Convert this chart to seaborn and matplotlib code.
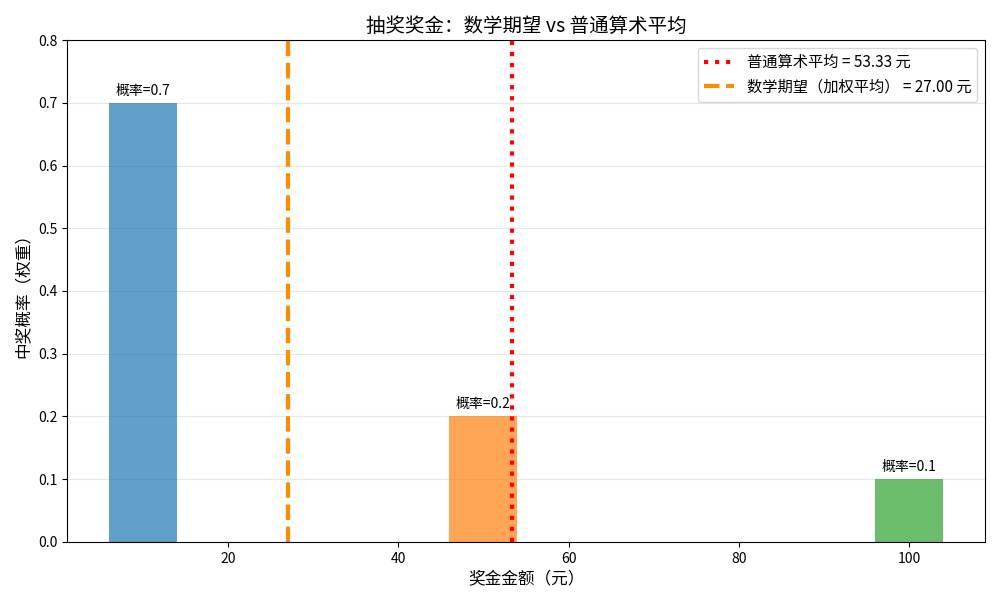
import matplotlib

matplotlib.use("Agg")
import matplotlib.pyplot as plt
import pandas as pd
import seaborn as sns

# 奖金及对应概率
prizes = [10, 50, 100]
probs = [0.7, 0.2, 0.1]
bar_colors = ["#1f77b4", "#ff7f0e", "#2ca02c"]

simple_mean = sum(prizes) / len(prizes)
expected = sum(p * w for p, w in zip(prizes, probs))

plt.rcParams["font.family"] = ["Noto Sans CJK SC", "DejaVu Sans"]
plt.rcParams["axes.unicode_minus"] = False

df = pd.DataFrame({"prize": prizes, "prob": probs})

fig, ax = plt.subplots(figsize=(10, 6), dpi=100)
sns.barplot(
    data=df, x="prize", y="prob", hue="prize", palette=bar_colors,
    native_scale=True, width=0.2, alpha=0.7, saturation=1,
    legend=False, ax=ax,
)
for x, p in zip(prizes, probs):
    ax.text(x, p + 0.008, f"概率={p}", ha="center", va="bottom", fontsize=10)

ax.axvline(simple_mean, color="red", linestyle=":", linewidth=3,
           label=f"普通算术平均 = {simple_mean:.2f} 元")
ax.axvline(expected, color="darkorange", linestyle="--", linewidth=3,
           label=f"数学期望（加权平均） = {expected:.2f} 元")

ax.set_ylim(0, 0.8)
ax.set_xlim(1.1, 108.9)
ax.set_xticks([20, 40, 60, 80, 100])
ax.set_xlabel("奖金金额（元）", fontsize=12)
ax.set_ylabel("中奖概率（权重）", fontsize=12)
ax.set_title("抽奖奖金：数学期望 vs 普通算术平均", fontsize=14)
ax.grid(axis="y", alpha=0.3)
ax.set_axisbelow(True)
ax.legend(fontsize=11, loc="upper right")

fig.subplots_adjust(left=0.067, right=0.985, top=0.933, bottom=0.097)
fig.savefig("out.png", dpi=100)
